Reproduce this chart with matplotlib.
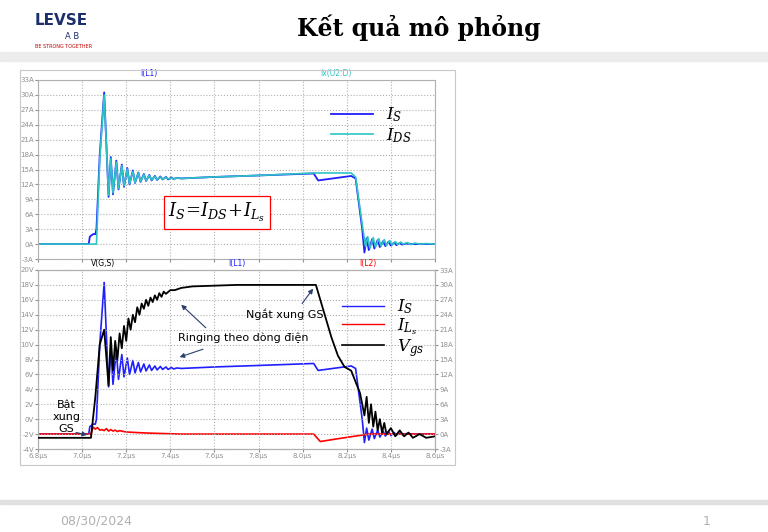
import matplotlib
matplotlib.use("Agg")
import matplotlib.pyplot as plt
from matplotlib.patches import Rectangle
from matplotlib.lines import Line2D

plt.rcParams["mathtext.fontset"] = "dejavuserif"

# ---- data (time in µs) ----
t_is = [6.8, 7.03, 7.035, 7.05, 7.06, 7.065, 7.08, 7.10, 7.12, 7.13, 7.14, 7.155, 7.165, 7.18, 7.19,
        7.205, 7.215, 7.23, 7.24, 7.255, 7.265, 7.28, 7.29, 7.305, 7.315, 7.33, 7.34, 7.355, 7.365,
        7.38, 7.39, 7.405, 7.415, 7.43, 7.45, 7.6, 7.8, 8.05, 8.07, 8.22, 8.24, 8.27, 8.28, 8.29, 8.30,
        8.315, 8.325, 8.34, 8.35, 8.365, 8.375, 8.39, 8.40, 8.415, 8.425, 8.44, 8.45, 8.47, 8.5, 8.55, 8.6]
i_s = [0, 0, 1.5, 2.0, 2.0, 3.0, 18, 30.5, 9.5, 17.5, 10.0, 16.8, 11.0, 16.0, 11.5,
       15.3, 12.0, 14.8, 12.3, 14.4, 12.5, 14.1, 12.7, 13.9, 12.8, 13.7, 12.9, 13.6, 13.0,
       13.5, 13.0, 13.4, 13.1, 13.3, 13.2, 13.5, 13.8, 14.2, 12.8, 13.7, 13.2, 3.0, -1.7, 1.2, -1.2,
       1.0, -0.9, 0.8, -0.6, 0.6, -0.4, 0.5, -0.3, 0.3, -0.2, 0.2, -0.1, 0.1, 0.0, 0.0, 0.0]
t_ids = [6.8, 7.065, 7.08, 7.10, 7.12, 7.13, 7.14, 7.155, 7.165, 7.18, 7.19, 7.205, 7.215, 7.23, 7.24,
         7.255, 7.265, 7.28, 7.29, 7.305, 7.315, 7.33, 7.34, 7.355, 7.365, 7.38, 7.39, 7.405, 7.415,
         7.43, 7.45, 7.6, 7.8, 8.05, 8.22, 8.24, 8.27, 8.285, 8.295, 8.305, 8.32, 8.33, 8.345, 8.355,
         8.37, 8.38, 8.395, 8.405, 8.42, 8.43, 8.445, 8.455, 8.475, 8.49, 8.51, 8.53, 8.56, 8.6]
i_ds = [0, 0, 17, 30.0, 9.8, 17.2, 10.3, 16.5, 11.2, 15.8, 11.7,
        15.1, 12.1, 14.6, 12.4, 14.3, 12.6, 14.0, 12.8, 13.8, 12.9, 13.6, 13.0, 13.5, 13.0,
        13.4, 13.1, 13.3, 13.1, 13.3, 13.2, 13.5, 13.8, 14.3, 14.3, 13.5, 4.0, -0.5, 1.5, -0.8,
        1.3, -0.6, 1.1, -0.4, 0.9, -0.3, 0.7, -0.2, 0.5, -0.1, 0.4, 0.0, 0.3, -0.1, 0.2, 0.0, 0.1, 0.0]
t_ls = [6.8, 7.04, 7.05, 7.06, 7.07, 7.08, 7.09, 7.10, 7.11, 7.12, 7.13, 7.14, 7.15, 7.16, 7.17, 7.19,
        7.21, 7.25, 7.3, 7.45, 8.05, 8.08, 8.15, 8.3, 8.6]
i_ls = [0, 0, 1.4, 1.0, 1.3, 0.8, 0.9, 0.7, 1.1, 0.6, 0.9, 0.6, 0.8, 0.5, 0.7, 0.5,
        0.4, 0.3, 0.2, 0.0, 0.0, -1.5, -1.0, 0.0, 0.0]
t_vgs = [6.8, 7.04, 7.06, 7.08, 7.10, 7.12, 7.13, 7.14, 7.15, 7.16, 7.17, 7.18, 7.19, 7.20, 7.21,
         7.22, 7.23, 7.24, 7.25, 7.26, 7.27, 7.28, 7.29, 7.30, 7.31, 7.32, 7.33, 7.34, 7.35, 7.36,
         7.37, 7.38, 7.40, 7.42, 7.45, 7.5, 7.6, 7.7, 7.8, 8.06, 8.08, 8.10, 8.13, 8.16, 8.19, 8.22,
         8.24, 8.26, 8.28, 8.29, 8.30, 8.31, 8.32, 8.33, 8.34, 8.35, 8.36, 8.37, 8.38, 8.40, 8.42,
         8.44, 8.46, 8.48, 8.50, 8.53, 8.56, 8.6]
v_gs = [-2.5, -2.5, 3.0, 10.0, 12.0, 4.5, 11.0, 6.5, 10.5, 8.0, 11.5, 9.5, 12.5, 10.5, 13.5,
        12.0, 14.0, 13.0, 15.0, 14.0, 15.5, 14.8, 16.0, 15.2, 16.3, 15.7, 16.6, 16.0, 16.9, 16.4,
        17.1, 16.8, 17.3, 17.3, 17.6, 17.8, 17.9, 18.0, 18.0, 18.0, 16.0, 14.0, 11.0, 8.5, 7.0, 6.5,
        5.0, 3.5, 0.5, 3.0, -0.5, 2.0, -1.0, 1.0, -1.5, 0.0, -1.8, -0.5, -2.0, -1.2, -2.3,
        -1.5, -2.3, -1.8, -2.5, -2.0, -2.5, -2.3]

top_ticks = [-3, 0, 3, 6, 9, 12, 15, 18, 21, 24, 27, 30, 33]
left_ticks = [-4, -2, 0, 2, 4, 6, 8, 10, 12, 14, 16, 18, 20]
x_ticks = [6.8, 7.0, 7.2, 7.4, 7.6, 7.8, 8.0, 8.2, 8.4, 8.6]

BLUE = "#1f1fff"
CYAN = "#2ec4c4"
GRAY = "#909090"

fig = plt.figure(figsize=(7.68, 5.32), dpi=100)
fig.patch.set_facecolor("white")

# header
fig.text(0.545, 0.948, "Kết quả mô phỏng", ha="center", va="center",
         fontsize=17, fontweight="bold", family="DejaVu Serif")
fig.patches.append(Rectangle((0, 0.885), 1, 0.018, transform=fig.transFigure,
                             color="#ececec", zorder=0))
fig.text(0.045, 0.962, "LEVSE", fontsize=11, fontweight="bold", color="#1c2f6b", va="center")
fig.text(0.085, 0.932, "A B", fontsize=6, color="#1c2f6b", va="center")
fig.text(0.045, 0.912, "BE STRONG TOGETHER", fontsize=3.5, color="#c00000", va="center")
# footer
fig.patches.append(Rectangle((0, 0.052), 1, 0.008, transform=fig.transFigure,
                             color="#e0e0e0", zorder=0))
fig.text(0.078, 0.02, "08/30/2024", fontsize=9, color="#b0b0b0", va="center")
fig.text(0.915, 0.02, "1", fontsize=9, color="#b0b0b0", va="center")
# chart frame
fig.patches.append(Rectangle((20/768, 1-465/532), 435/768, 395/532, transform=fig.transFigure,
                             fill=False, ec="#c8c8c8", lw=0.8))

def style(ax):
    ax.grid(True, ls=":", color="#b0b0b0", lw=0.8)
    ax.tick_params(labelsize=5, colors=GRAY, length=2, pad=1)
    for s in ax.spines.values():
        s.set_color("#b0b0b0")
    ax.set_xlim(6.8, 8.6)
    ax.set_xticks(x_ticks)

ax1 = fig.add_axes([38/768, 1-259/532, 397/768, 179/532])
style(ax1)
ax1.plot(t_is, i_s, color=BLUE, lw=1.3, label="$I_S$")
ax1.plot(t_ids, i_ds, color=CYAN, lw=1.2, label="$I_{DS}$")
ax1.set_ylim(-3, 33)
ax1.set_yticks(top_ticks)
ax1.set_yticklabels([f"{v}A" for v in top_ticks])
ax1.set_xticklabels([])
ax1.legend(loc="upper right", bbox_to_anchor=(0.98, 0.94), frameon=False,
           handlelength=2.5, prop={"size": 12}, labelspacing=0.1)
ax1.text(0.28, 1.01, "I(L1)", transform=ax1.transAxes, color=BLUE, fontsize=5.5, ha="center", va="bottom")
ax1.text(0.75, 1.01, "Ix(U2:D)", transform=ax1.transAxes, color=CYAN, fontsize=5.5, ha="center", va="bottom")
ax1.text(0.45, 0.26, "$I_S\\!=\\!I_{DS}\\!+\\!I_{L_s}$", transform=ax1.transAxes, fontsize=13,
         ha="center", va="center",
         bbox=dict(boxstyle="square,pad=0.25", fc="white", ec="red", lw=0.9))

ax2 = fig.add_axes([38/768, 1-449/532, 397/768, 179/532])
style(ax2)
ax2.plot(t_vgs, v_gs, color="black", lw=1.3, zorder=3)
ax2.set_ylim(-4, 20)
ax2.set_yticks(left_ticks)
ax2.set_yticklabels([f"{v}V" for v in left_ticks])
ax2.set_xticklabels([f"{v:.1f}µs" for v in x_ticks])
ax3 = ax2.twinx()
ax3.set_xlim(6.8, 8.6)
ax3.plot(t_is, i_s, color=BLUE, lw=1.2)
ax3.plot(t_ls, i_ls, color="red", lw=1.2)
ax3.set_ylim(-3, 33)
ax3.set_yticks(top_ticks)
ax3.set_yticklabels([f"{v}A" for v in top_ticks])
ax3.tick_params(labelsize=5, colors=GRAY, length=2, pad=1)
for s in ax3.spines.values():
    s.set_color("#b0b0b0")
ax2.set_zorder(ax3.get_zorder() + 1)
ax2.patch.set_visible(False)

ax2.text(0.165, 1.01, "V(G,S)", transform=ax2.transAxes, color="black", fontsize=5.5, ha="center", va="bottom")
ax2.text(0.5, 1.01, "I(L1)", transform=ax2.transAxes, color=BLUE, fontsize=5.5, ha="center", va="bottom")
ax2.text(0.83, 1.01, "I(L2)", transform=ax2.transAxes, color="red", fontsize=5.5, ha="center", va="bottom")

h = [Line2D([], [], color=BLUE, lw=1), Line2D([], [], color="red", lw=1), Line2D([], [], color="black", lw=1.2)]
ax2.legend(h, ["$I_S$", "$I_{L_s}$", "$V_{gs}$"], loc="upper right", bbox_to_anchor=(1.01, 0.93),
           frameon=False, prop={"size": 12}, handlelength=2.5, labelspacing=0.0)

ap = dict(arrowstyle="-|>", color="#2b3f6b", lw=0.8, mutation_scale=7)
ax2.text(7.92, 14.1, "Ngắt xung GS", fontsize=8, ha="center", va="center")
ax2.annotate("", xy=(8.055, 17.8), xytext=(7.99, 15.2), arrowprops=ap)
ax2.text(7.73, 10.9, "Ringing theo dòng điện", fontsize=8, ha="center", va="center")
ax2.annotate("", xy=(7.44, 15.6), xytext=(7.57, 12.0), arrowprops=ap)
ax2.annotate("", xy=(7.43, 8.2), xytext=(7.56, 9.5), arrowprops=ap)
ax2.text(6.93, 0.3, "Bật\nxung\nGS", fontsize=8, ha="center", va="center", linespacing=1.2)
ax2.annotate("", xy=(7.035, -2.2), xytext=(6.96, -1.7), arrowprops=ap)

fig.savefig("out.png", dpi=100)
